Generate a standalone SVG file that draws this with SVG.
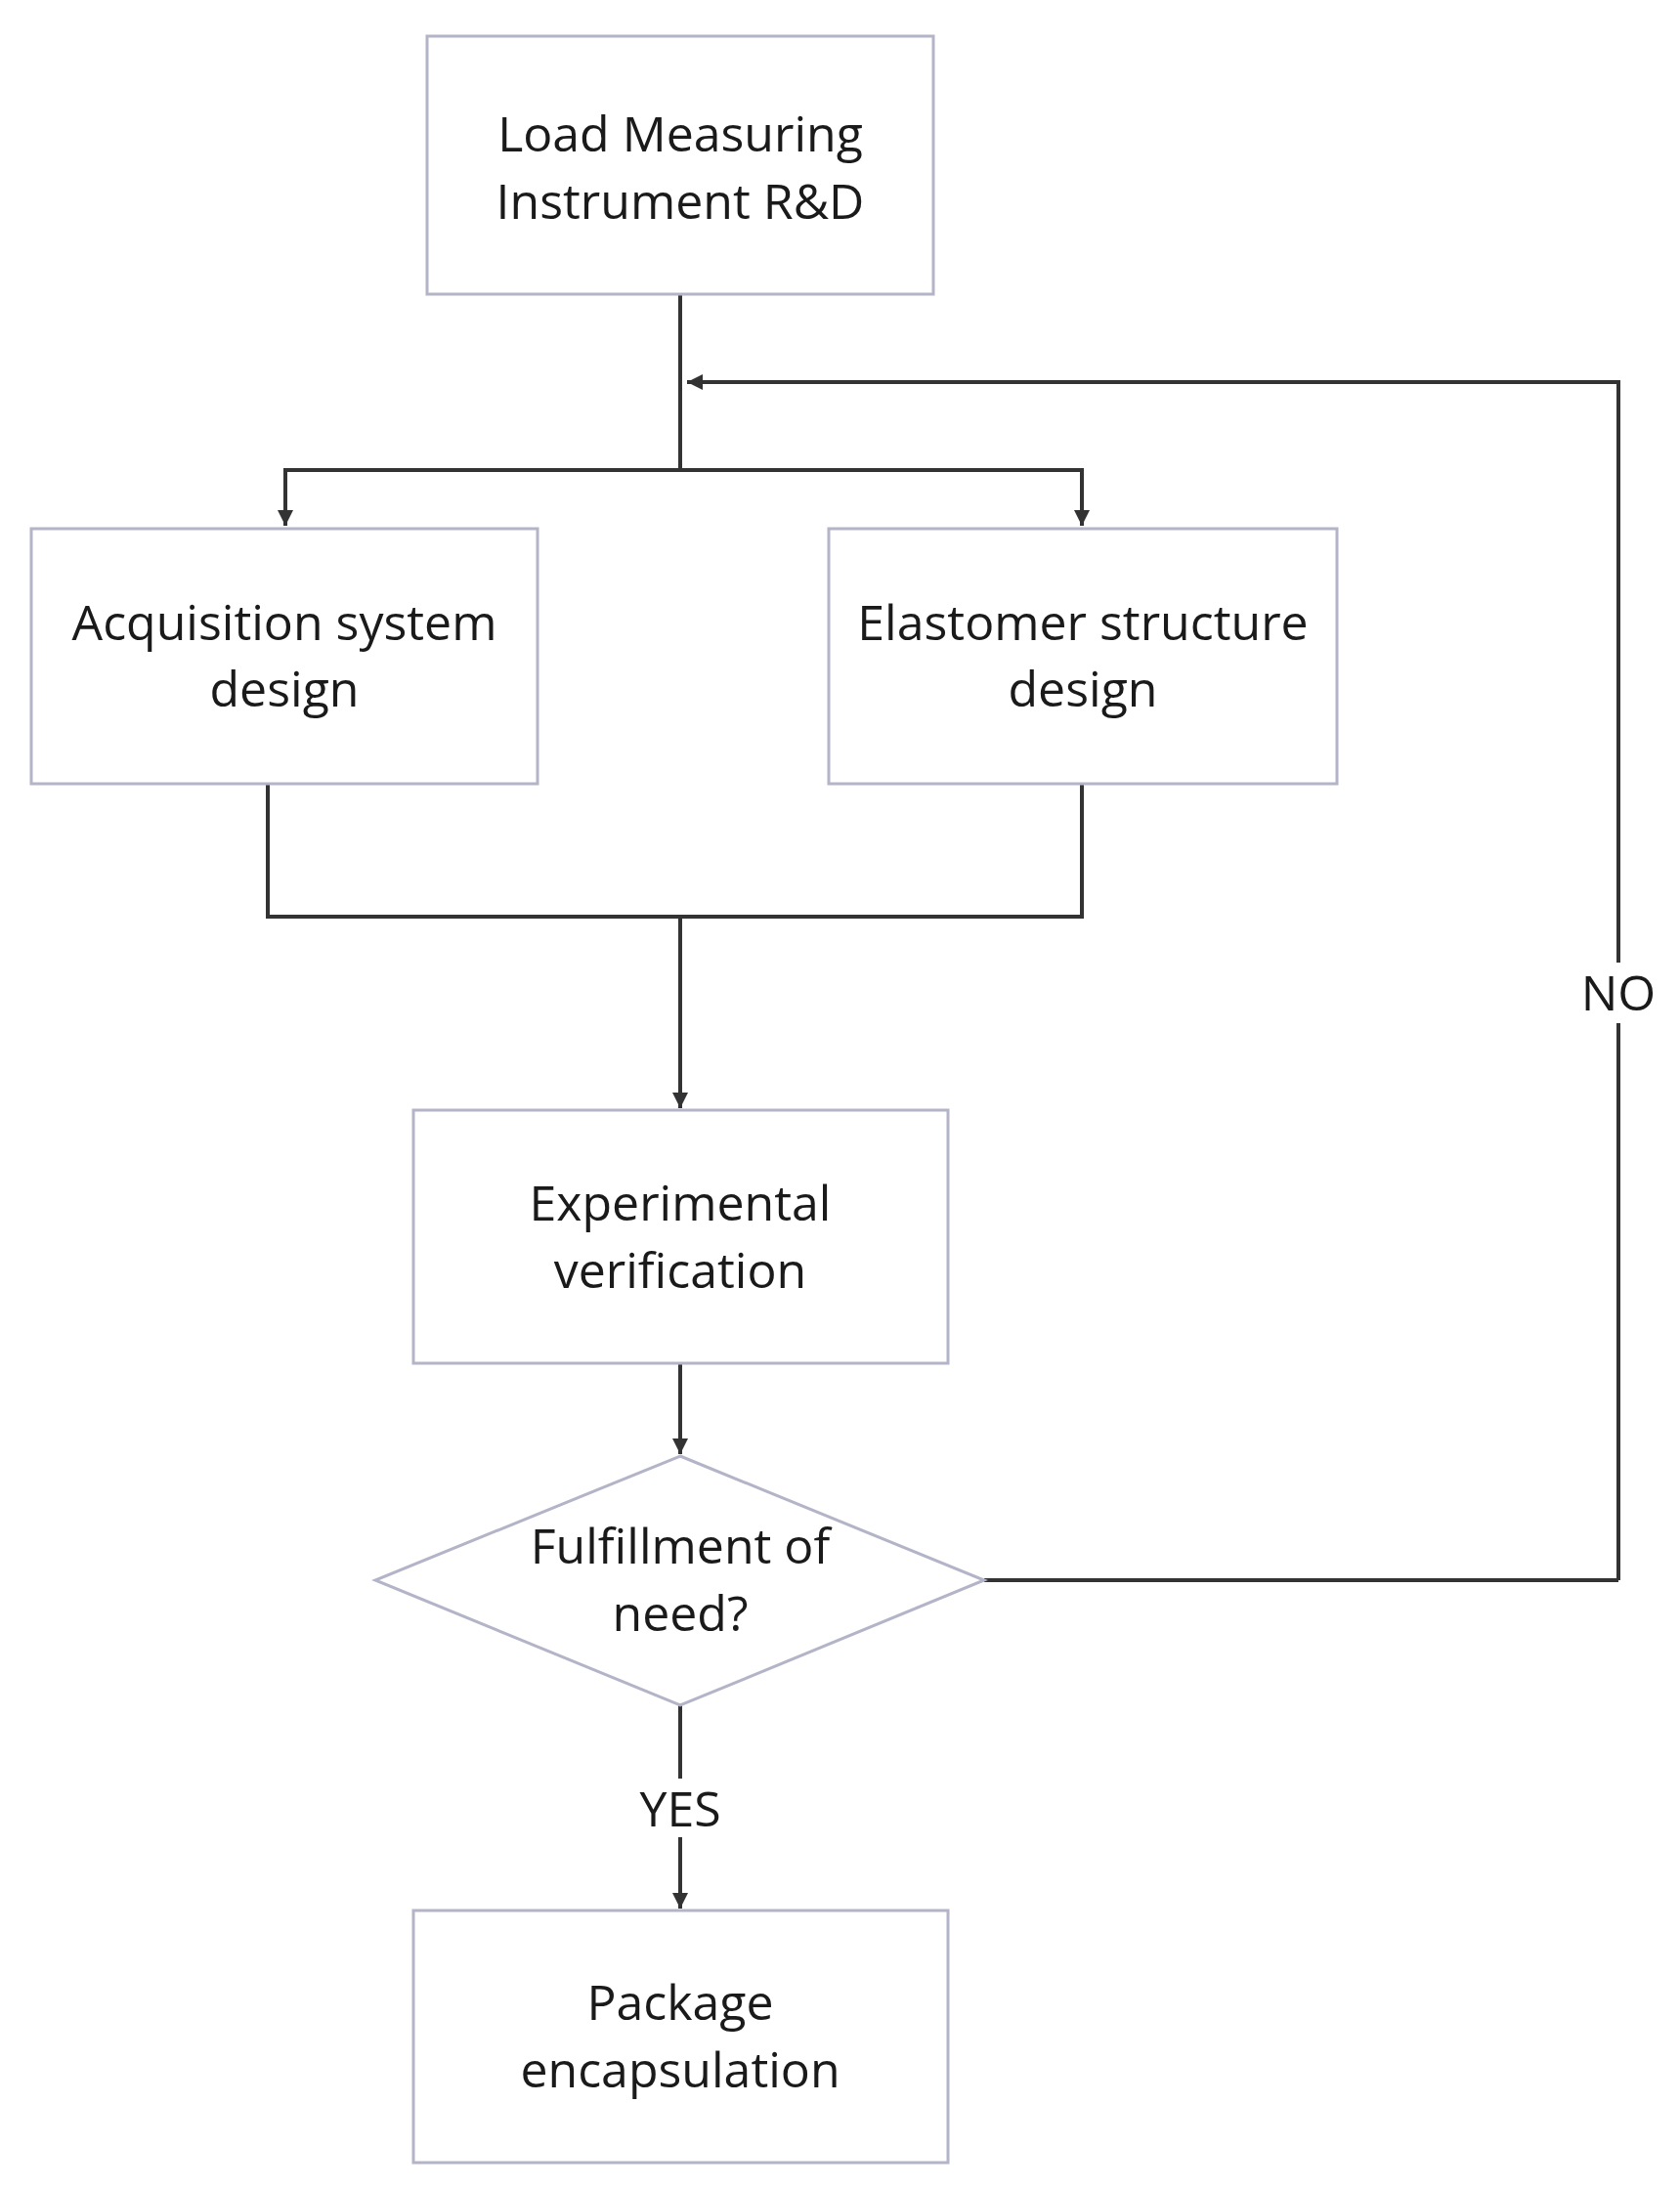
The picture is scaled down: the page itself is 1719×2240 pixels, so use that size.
<svg xmlns="http://www.w3.org/2000/svg" width="1719" height="2240" viewBox="0 0 1719 2240">
<style>
.box{fill:#fff;stroke:#b4b4c8;stroke-width:3}
.t{font-family:"Open Sans","DejaVu Sans",sans-serif;font-size:50px;fill:#1a1a1a;text-anchor:middle}
.c{fill:none;stroke:#333;stroke-width:4}
</style>
<defs><marker id="a" viewBox="0 0 10 10" refX="10" refY="5" markerWidth="4" markerHeight="4" orient="auto"><path d="M0,0L10,5L0,10z" fill="#333"/></marker></defs>
<rect width="1719" height="2240" fill="#fff"/>
<g id="connectors">
<path class="c" d="M696,301V481"/>
<path class="c" d="M1656,1617V391H703" marker-end="url(#a)"/>
<path class="c" d="M292,538V481H1107V538" />
<path class="c" d="M292,520V538" marker-end="url(#a)"/>
<path class="c" d="M1107,520V538" marker-end="url(#a)"/>
<path class="c" d="M274,802V938H1107V802"/>
<path class="c" d="M696,938V1134" marker-end="url(#a)"/>
<path class="c" d="M696,1395V1488" marker-end="url(#a)"/>
<path class="c" d="M1007,1617H1656"/>
<path class="c" d="M696,1745V1820"/>
<path class="c" d="M696,1880V1953" marker-end="url(#a)"/>
<rect x="1612" y="985" width="88" height="62" fill="#fff"/>
<text class="t" x="1656" y="1034">NO</text>
<text class="t" x="696" y="1869">YES</text>
</g>
<g id="n1"><rect class="box" x="437" y="37" width="518" height="264"/><text class="t" x="696" y="155">Load Measuring</text><text class="t" x="696" y="224">Instrument R&amp;D</text></g>
<g id="n2"><rect class="box" x="32" y="541" width="518" height="261"/><text class="t" x="291" y="655">Acquisition system</text><text class="t" x="291" y="723">design</text></g>
<g id="n3"><rect class="box" x="848" y="541" width="520" height="261"/><text class="t" x="1108" y="655">Elastomer structure</text><text class="t" x="1108" y="723">design</text></g>
<g id="n4"><rect class="box" x="423" y="1136" width="547" height="259"/><text class="t" x="696" y="1249">Experimental</text><text class="t" x="696" y="1318">verification</text></g>
<g id="n5"><polygon class="box" points="696,1490 1007,1617 696,1745 384,1617"/><text class="t" x="696" y="1600">Fulfillment of</text><text class="t" x="696" y="1669">need?</text></g>
<g id="n6"><rect class="box" x="423" y="1955" width="547" height="258"/><text class="t" x="696" y="2067">Package</text><text class="t" x="696" y="2136">encapsulation</text></g>
</svg>
